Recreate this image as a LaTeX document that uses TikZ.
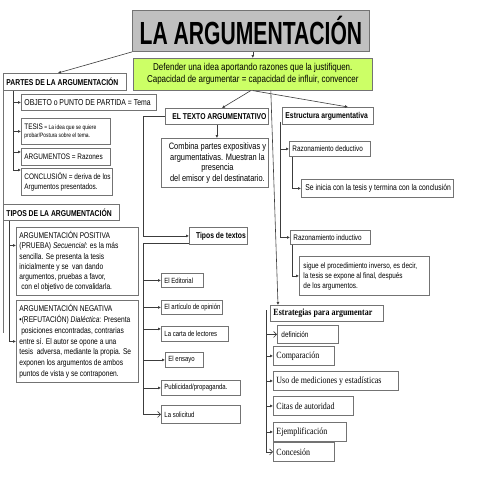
\documentclass[tikz,border=0pt]{standalone}
\usepackage{fontspec}
\setmainfont{Liberation Sans}[FakeStretch=0.8]
\newfontfamily\titlefont{Liberation Sans}[FakeStretch=0.66]
\newfontfamily\timesn{Liberation Serif}[FakeStretch=0.84]
\usetikzlibrary{arrows.meta}
\definecolor{lime}{RGB}{204,255,102}
\definecolor{ttl}{RGB}{192,192,192}
\definecolor{bord}{RGB}{115,115,115}
\definecolor{lnc}{RGB}{60,60,60}
\begin{document}
\begin{tikzpicture}[x=1pt,y=-1pt,
  bx/.style={draw=bord, line width=0.9pt, fill=white, anchor=north west, inner xsep=3pt, inner ysep=1pt, align=flush left,
    execute at begin node={\rightskip=-5pt plus 1fil\relax}, font=\fontsize{8}{9.6}\selectfont},
  cbx/.style={align=flush center, execute at begin node={}},
  bb/.style={bx, font=\bfseries\fontsize{8.5}{9.6}\selectfont},
  li/.style={bx, font=\fontsize{7.5}{9}\selectfont},
  tm/.style={bx, font=\timesn\fontsize{9.5}{11}\selectfont},
  sz/.style n args={3}{minimum width=#1pt, minimum height=#2pt, text width=#3pt},
  ln/.style={draw=lnc, line width=0.6pt},
  arr/.style={ln, -{Latex[length=3pt,width=3pt]}},
  oarr/.style={ln, -{Straight Barb[length=3pt,width=6pt]}}
]
\useasboundingbox[fill=white] (0,0) rectangle (480,480);

% title and definition
\node[draw=bord, line width=0.9pt, fill=ttl, anchor=north west, minimum width=237pt, minimum height=41pt, inner sep=0pt,
  font=\titlefont\bfseries\fontsize{32}{34}\selectfont] (title) at (132,10) {LA ARGUMENTACIÓN};
\node[draw=bord, line width=0.6pt, fill=lime, anchor=north west, minimum width=239pt, minimum height=32pt, inner sep=0pt,
  align=flush center, font=\fontsize{10}{12}\selectfont] (green) at (133,58)
  {Defender una idea aportando razones que la justifiquen.\\Capacidad de argumentar = capacidad de influir, convencer};

% left column
\node[bb, sz={123}{17}{117}] (partes) at (3,73) {PARTES DE LA ARGUMENTACIÓN};
\node[bx, sz={135}{16}{129}, font=\fontsize{8.6}{9.6}\selectfont] (objeto) at (21,94) {OBJETO o PUNTO DE PARTIDA = Tema};
\node[bx, sz={89}{26}{83}, font=\fontsize{6.2}{8.5}\selectfont] (tesis) at (21,118)
  {{\fontsize{8}{8.5}\selectfont TESIS} = La idea que se quiere\\probar/Postura sobre el tema.};
\node[bx, sz={89}{17}{83}] (argumentos) at (21,148) {ARGUMENTOS = Razones};
\node[bx, sz={91}{27}{85}, font=\fontsize{8}{9.8}\selectfont] (conclusion) at (21,168) {CONCLUSIÓN = deriva de los\\Argumentos presentados.};
\node[bb, sz={116}{16}{110}] (tipos) at (3,204) {TIPOS DE LA ARGUMENTACIÓN};
\node[bx, sz={122}{68}{116}, font=\fontsize{8.3}{10.2}\selectfont] (positiva) at (16,227)
  {ARGUMENTACIÓN POSITIVA\\(PRUEBA) \textit{Secuencial}: es la más\\sencilla. Se presenta la tesis\\inicialmente y se\ \ van dando\\argumentos, pruebas a favor,\\\ con el objetivo de convalidarla.};
\node[bx, sz={122}{82}{116}, font=\fontsize{8.3}{10.8}\selectfont] (negativa) at (16,300)
  {ARGUMENTACIÓN NEGATIVA\\•(REFUTACIÓN) \textit{Dialéctica}: Presenta\\\ posiciones encontradas, contrarias\\entre sí. El autor se opone a una\\tesis\ \ adversa, mediante la propia. Se\\exponen los argumentos de ambos\\puntos de vista y se contraponen.};

% middle column
\node[bb, cbx, sz={103}{16}{99}, inner xsep=2pt] (eltexto) at (165,108) {EL TEXTO ARGUMENTATIVO};
\node[bx, cbx, sz={107}{49}{101}, font=\fontsize{9.3}{10.5}\selectfont] (combina) at (161,138)
  {Combina partes expositivas y\\argumentativas. Muestran la\\presencia\\del emisor y del destinatario.};
\node[bb, cbx, sz={58}{17}{54}, inner xsep=2pt] (tiposT) at (189,227) {Tipos de textos};
\node[li, sz={42}{14}{36}] (editorial) at (161,273) {El Editorial};
\node[li, sz={61}{14}{55}] (articulo) at (161,300) {El artículo de opinión};
\node[li, sz={67}{15}{61}] (carta) at (161,326) {La carta de lectores};
\node[li, sz={38}{15}{32}] (ensayo) at (165,352) {El ensayo};
\node[li, sz={79}{15}{73}] (publicidad) at (161,380) {Publicidad/propaganda.};
\node[li, sz={79}{18}{73}] (solicitud) at (161,405) {La solicitud};

% right column
\node[bb, sz={91}{17}{85}] (estructura) at (282,107) {Estructura argumentativa};
\node[bx, sz={81}{15}{75}] (deductivo) at (289,141) {Razonamiento deductivo};
\node[bx, sz={152}{18}{144}, inner xsep=4pt, font=\fontsize{8.5}{9.6}\selectfont] (seinicia) at (301,179) {Se inicia con la tesis y termina con la conclusión};
\node[bx, sz={80}{14}{74}] (inductivo) at (290,230) {Razonamiento inductivo};
\node[bx, sz={130}{39}{122}, inner xsep=4pt, font=\fontsize{8}{10}\selectfont] (sigue) at (299,256)
  {sigue el procedimiento inverso, es decir,\\la tesis se expone al final, después\\de los argumentos.};
\node[tm, sz={113}{16}{107}, font=\timesn\bfseries\fontsize{9.5}{11}\selectfont] (estrategias) at (270,305) {Estrategias para argumentar};
\node[bx, sz={61}{18}{53}, inner xsep=4pt] (definicion) at (277,325) {definición};
\node[tm, sz={61}{19}{55}] (comparacion) at (273,346) {Comparación};
\node[tm, sz={125}{19}{119}] (uso) at (273,371) {Uso de mediciones y estadísticas};
\node[tm, sz={80}{19}{74}] (citas) at (273,396) {Citas de autoridad};
\node[tm, sz={73}{19}{67}] (ejemplificacion) at (273,422) {Ejemplificación};
\node[tm, sz={61}{19}{55}] (concesion) at (273,442) {Concesión};

% connectors from the top
\draw[arr] (green.north |- title.south) -- (green.north);
\draw[arr] (title.south west) -- ([xshift=-7pt]partes.north);
\draw[arr] ([xshift=-2pt]green.south) -- ([xshift=5pt]eltexto.north);
\draw[arr] (green.south) -- ([xshift=20pt]estructura.north);
\draw[arr] ([xshift=18pt]green.south) -- ([xshift=8pt]estrategias.north west);

% left column connectors
\coordinate (oL) at (3.5,333);
\draw[ln, line width=1pt, draw=bord] (partes.south west -| oL) -- (oL);
\coordinate (pt) at ([xshift=10pt]partes.south west);
\coordinate (aA) at ([yshift=5pt]argumentos.west);
\coordinate (cA) at ([yshift=-2pt]conclusion.north west);
\draw[arr] (pt) |- (cA);
\draw[arr] (objeto.west -| pt) -- (objeto.west);
\draw[arr] (tesis.west -| pt) -- (tesis.west);
\draw[arr] (aA -| pt) -- (aA);
\coordinate (tt) at ([xshift=6pt]tipos.south west);
\coordinate (pA) at ([yshift=16pt]positiva.west);
\draw[arr] (tt) |- (negativa.west);
\draw[arr] (pA -| tt) -- (pA);

% middle connectors
\draw[arr] (eltexto.south) -- (eltexto.south |- combina.north);
\draw[arr] (eltexto.west) -- ++(-22,0) |- (tiposT.west);
\coordinate (tl) at ([yshift=1.5pt]tiposT.south west);
\coordinate (tv) at ([xshift=-46pt]tl);
\coordinate (cT) at ([yshift=5pt]carta.west);
\draw[oarr] (tl) -- (tv) |- (solicitud.west);
\draw[arr] (tv |- editorial.west) -- (editorial.west);
\draw[arr] (tv |- articulo.west) -- (articulo.west);
\draw[arr] (tv |- cT) -- (cT);
\draw[arr] (tv |- ensayo.west) -- (ensayo.west);
\draw[arr] (tv |- publicidad.west) -- (publicidad.west);

% right connectors
\coordinate (ev) at ([xshift=-2pt,yshift=3pt]estructura.south west);
\draw[arr] (ev) |- (inductivo.west);
\draw[arr] (ev |- deductivo.west) -- (deductivo.west);
\coordinate (dv) at ([xshift=3pt]deductivo.south west);
\draw[arr] (dv) |- (seinicia.west);
\coordinate (iv) at ([xshift=2pt]inductivo.south west);
\draw[arr] (iv) |- (sigue.west);
\coordinate (sv) at ([xshift=-4pt,yshift=-5pt]estrategias.north west);
\draw[oarr] (sv) |- (concesion.west);
\draw[oarr] (sv |- definicion.west) -- (definicion.west);
\draw[arr] (sv |- comparacion.west) -- (comparacion.west);
\draw[arr] (sv |- uso.west) -- (uso.west);
\draw[arr] (sv |- citas.west) -- (citas.west);
\draw[arr] (sv |- ejemplificacion.west) -- (ejemplificacion.west);
\end{tikzpicture}
\end{document}
